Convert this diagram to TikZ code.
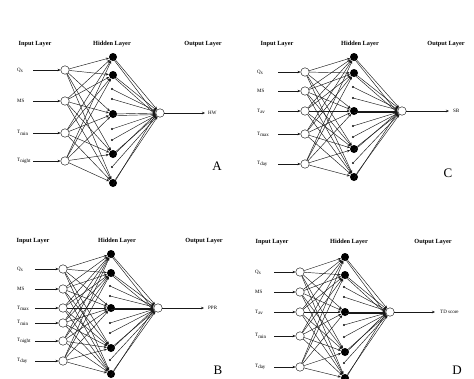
\documentclass[tikz,border=0pt]{standalone}
\usepackage{fontspec}
\setmainfont{Liberation Serif}
\usetikzlibrary{arrows.meta}
\begin{document}
\begin{tikzpicture}[x=1pt,y=-1pt,
 inp/.style={circle,draw,fill=white,minimum size=8.5pt,inner sep=0pt,line width=0.4pt},
 hid/.style={circle,fill=black,minimum size=8pt,inner sep=0pt},
 dotn/.style={circle,fill=black,minimum size=2.2pt,inner sep=0pt},
 outn/.style={circle,draw,fill=white,minimum size=8.5pt,inner sep=0pt,line width=0.4pt},
 conn/.style={line width=0.45pt,draw=black!90,-{Stealth[length=3pt,width=2.5pt]}},
 head/.style={font=\fontsize{6.3}{7}\selectfont\bfseries,inner sep=0pt},
 lab/.style={font=\fontsize{5}{5}\selectfont,anchor=west,inner sep=0pt},
 letter/.style={font=\fontsize{13}{13}\selectfont,inner sep=0pt}]
\useasboundingbox (0,0) rectangle (474,378);
\clip (0,0) rectangle (474,378);
\fill[white] (0,0) rectangle (474,378);

% ================= Panel A =================
\node[head] (A-H1) at (35,44) {Input Layer};
\node[head] (A-H2) at (112,44) {Hidden Layer};
\node[head] (A-H3) at (203,44) {Output Layer};
\foreach \y/\t [count=\k] in {70/Q\textsubscript{s}, 101/MS, 133/T\textsubscript{min}, 161/T\textsubscript{night}} {
  \node[lab] (A-l\k) at (17,\y) {\t};
  \coordinate (A-s\k) at (33,\y);
  \node[inp] (A-i\k) at (65,\y) {};
}
\foreach \y [count=\k] in {57,75,114,154,183} \node[hid] (A-h\k) at (113,\y) {};
\foreach \y [count=\k] in {89,99,129,140,167} \node[dotn] (A-d\k) at (112,\y) {};
\node[outn] (A-o) at (160,113) {};
\coordinate (A-e) at (205,113);
\node[lab] (A-t) at (208,113) {HW};
\node[letter] (A-L) at (217,166) {A};
\foreach \k in {1,...,4} {
  \draw[conn] (A-s\k) -- (A-i\k);
  \foreach \j in {1,...,5} \draw[conn] (A-i\k) -- (A-h\j);
}
\foreach \j in {1,...,5} {
  \draw[conn] (A-h\j) -- (A-o);
  \draw[conn] ([yshift=-1.6pt]A-h\j.center) -- ([yshift=-1.6pt]A-o.west);
}
\foreach \j in {1,...,5} \draw[conn] (A-d\j) -- (A-o);
\draw[conn] (A-o) -- (A-e);

% ================= Panel C =================
\node[head] (C-H1) at (277,44) {Input Layer};
\node[head] (C-H2) at (360,44) {Hidden Layer};
\node[head] (C-H3) at (446,44) {Output Layer};
\foreach \y/\t [count=\k] in {72/Q\textsubscript{s}, 91/MS, 111/T\textsubscript{av}, 134/T\textsubscript{max}, 164/T\textsubscript{day}} {
  \node[lab] (C-l\k) at (257,\y) {\t};
  \coordinate (C-s\k) at (278,\y);
  \node[inp] (C-i\k) at (305,\y) {};
}
\foreach \y [count=\k] in {57,73,111,149,177} \node[hid] (C-h\k) at (354,\y) {};
\foreach \y [count=\k] in {87,98,126,137,163} \node[dotn] (C-d\k) at (353,\y) {};
\node[outn] (C-o) at (402,111) {};
\coordinate (C-e) at (449,111);
\node[lab] (C-t) at (453,111) {SB};
\node[letter] (C-L) at (448,173) {C};
\foreach \k in {1,...,5} {
  \draw[conn] (C-s\k) -- (C-i\k);
  \foreach \j in {1,...,5} \draw[conn] (C-i\k) -- (C-h\j);
}
\foreach \j in {1,...,5} {
  \draw[conn] (C-h\j) -- (C-o);
  \draw[conn] ([yshift=-1.6pt]C-h\j.center) -- ([yshift=-1.6pt]C-o.west);
}
\foreach \j in {1,...,5} \draw[conn] (C-d\j) -- (C-o);
\draw[conn] (C-o) -- (C-e);

% ================= Panel B =================
\node[head] (B-H1) at (33,241) {Input Layer};
\node[head] (B-H2) at (117,241) {Hidden Layer};
\node[head] (B-H3) at (204,241) {Output Layer};
\foreach \y/\t [count=\k] in {269/Q\textsubscript{s}, 289/MS, 308/T\textsubscript{max}, 323/T\textsubscript{min}, 341/T\textsubscript{night}, 361/T\textsubscript{day}} {
  \node[lab] (B-l\k) at (17,\y) {\t};
  \coordinate (B-s\k) at (35,\y);
  \node[inp] (B-i\k) at (63,\y) {};
}
\foreach \y [count=\k] in {254,273,308,348,374} \node[hid] (B-h\k) at (111,\y) {};
\foreach \y [count=\k] in {286,296,323,333,360} \node[dotn] (B-d\k) at (110,\y) {};
\node[outn] (B-o) at (158,308) {};
\coordinate (B-e) at (204,308);
\node[lab] (B-t) at (208,308) {PPR};
\node[letter] (B-L) at (218,370) {B};
\foreach \k in {1,...,6} {
  \draw[conn] (B-s\k) -- (B-i\k);
  \foreach \j in {1,...,5} \draw[conn] (B-i\k) -- (B-h\j);
}
\foreach \j in {1,...,5} {
  \draw[conn] (B-h\j) -- (B-o);
  \draw[conn] ([yshift=-1.6pt]B-h\j.center) -- ([yshift=-1.6pt]B-o.west);
}
\foreach \j in {1,...,5} \draw[conn] (B-d\j) -- (B-o);
\draw[conn] (B-o) -- (B-e);

% ================= Panel D =================
\node[head] (D-H1) at (272,242) {Input Layer};
\node[head] (D-H2) at (349,242) {Hidden Layer};
\node[head] (D-H3) at (433,242) {Output Layer};
\foreach \y/\t [count=\k] in {272/Q\textsubscript{s}, 292/MS, 312/T\textsubscript{av}, 336/T\textsubscript{min}, 367/T\textsubscript{day}} {
  \node[lab] (D-l\k) at (255,\y) {\t};
  \coordinate (D-s\k) at (274,\y);
  \node[inp] (D-i\k) at (300,\y) {};
}
\foreach \y [count=\k] in {257,275,312,352,378} \node[hid] (D-h\k) at (345,\y) {};
\foreach \y [count=\k] in {287,297,325,337,363} \node[dotn] (D-d\k) at (344,\y) {};
\node[outn] (D-o) at (390,312) {};
\coordinate (D-e) at (435,312);
\node[lab] (D-t) at (440,312) {TD score};
\node[letter] (D-L) at (457,370) {D};
\foreach \k in {1,...,5} {
  \draw[conn] (D-s\k) -- (D-i\k);
  \foreach \j in {1,...,5} \draw[conn] (D-i\k) -- (D-h\j);
}
\foreach \j in {1,...,5} {
  \draw[conn] (D-h\j) -- (D-o);
  \draw[conn] ([yshift=-1.6pt]D-h\j.center) -- ([yshift=-1.6pt]D-o.west);
}
\foreach \j in {1,...,5} \draw[conn] (D-d\j) -- (D-o);
\draw[conn] (D-o) -- (D-e);
\end{tikzpicture}
\end{document}
